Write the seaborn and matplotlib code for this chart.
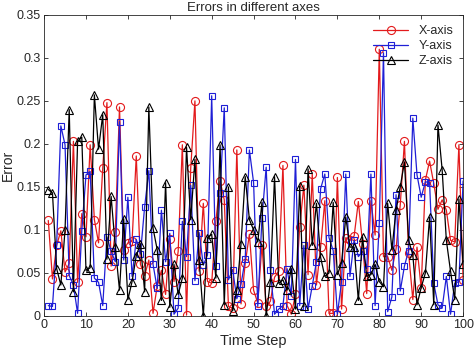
import numpy as np
import matplotlib
matplotlib.use("Agg")
import matplotlib.pyplot as plt
import seaborn as sns
import pandas as pd

# values (time steps 1..100)
steps = list(range(1, 101))

x_err = [0.111, 0.043, 0.082, 0.099, 0.051, 0.061, 0.203, 0.039, 0.119, 0.092,
         0.199, 0.112, 0.085, 0.172, 0.248, 0.058, 0.098, 0.243, 0.077, 0.085,
         0.087, 0.186, 0.060, 0.047, 0.065, 0.003, 0.035, 0.053, 0.025, 0.089,
         0.040, 0.075, 0.199, 0.001, 0.172, 0.250, 0.052, 0.131, 0.040, 0.038,
         0.110, 0.157, 0.135, 0.011, 0.009, 0.193, 0.014, 0.061, 0.095, 0.030,
         0.015, 0.083, 0.011, 0.017, 0.045, 0.052, 0.175, 0.012, 0.002, 0.025,
         0.103, 0.152, 0.048, 0.165, 0.036, 0.080, 0.134, 0.003, 0.003, 0.161,
         0.008, 0.091, 0.088, 0.093, 0.133, 0.084, 0.026, 0.134, 0.094, 0.310,
         0.069, 0.069, 0.053, 0.078, 0.129, 0.203, 0.073, 0.019, 0.080, 0.032,
         0.158, 0.180, 0.154, 0.124, 0.135, 0.123, 0.088, 0.086, 0.199, 0.042]

y_err = [0.012, 0.011, 0.083, 0.221, 0.199, 0.047, 0.036, 0.003, 0.099, 0.164,
         0.168, 0.044, 0.039, 0.012, 0.092, 0.075, 0.063, 0.226, 0.065, 0.138,
         0.046, 0.089, 0.072, 0.127, 0.169, 0.060, 0.032, 0.123, 0.063, 0.096,
         0.002, 0.009, 0.110, 0.069, 0.152, 0.041, 0.097, 0.059, 0.071, 0.256,
         0.058, 0.143, 0.242, 0.042, 0.054, 0.020, 0.037, 0.066, 0.193, 0.155,
         0.011, 0.114, 0.173, 0.053, 0.002, 0.008, 0.012, 0.055, 0.023, 0.182,
         0.012, 0.082, 0.008, 0.035, 0.063, 0.148, 0.165, 0.091, 0.076, 0.002,
         0.040, 0.165, 0.046, 0.088, 0.069, 0.075, 0.055, 0.165, 0.012, 0.108,
         0.306, 0.005, 0.022, 0.141, 0.029, 0.058, 0.076, 0.230, 0.164, 0.138,
         0.156, 0.155, 0.038, 0.013, 0.009, 0.046, 0.002, 0.038, 0.040, 0.157]

z_err = [0.147, 0.143, 0.055, 0.036, 0.100, 0.240, 0.028, 0.203, 0.208, 0.053,
         0.056, 0.257, 0.194, 0.234, 0.066, 0.139, 0.080, 0.030, 0.113, 0.019,
         0.040, 0.070, 0.084, 0.028, 0.243, 0.102, 0.077, 0.018, 0.155, 0.010,
         0.060, 0.025, 0.044, 0.196, 0.112, 0.182, 0.065, 0.000, 0.091, 0.095,
         0.044, 0.199, 0.013, 0.150, 0.006, 0.030, 0.084, 0.162, 0.112, 0.100,
         0.086, 0.132, 0.000, 0.040, 0.162, 0.038, 0.042, 0.030, 0.055, 0.008,
         0.151, 0.011, 0.171, 0.082, 0.131, 0.068, 0.046, 0.050, 0.132, 0.048,
         0.062, 0.115, 0.080, 0.080, 0.018, 0.092, 0.046, 0.048, 0.060, 0.040,
         0.034, 0.131, 0.077, 0.123, 0.150, 0.179, 0.088, 0.071, 0.013, 0.033,
         0.050, 0.115, 0.013, 0.222, 0.170, 0.088, 0.052, 0.019, 0.136, 0.060]

sns.set_theme(style="white")
plt.rcParams['font.family'] = ['Liberation Sans', 'DejaVu Sans']

fig = plt.figure(figsize=(4.74, 3.55), dpi=100)
ax = fig.add_axes([0.093, 0.11, 0.884, 0.848])

series = [("X-axis", x_err, "#e31a1c", "o", 5.8),
          ("Y-axis", y_err, "#1f1fd6", "s", 4.2),
          ("Z-axis", z_err, "black", "^", 6.0)]
for name, vals, col, mk, ms in series:
    sns.lineplot(x=steps, y=vals, ax=ax, color=col, lw=0.9, marker=mk,
                 markersize=ms, markerfacecolor="none", markeredgecolor=col,
                 markeredgewidth=0.8, label=name)

ax.set_xlim(0, 100)
ax.set_ylim(0, 0.35)
ax.set_xticks(np.arange(0, 101, 10))
ax.set_yticks(np.arange(0, 0.351, 0.05))
ax.set_yticklabels(["0", "0.05", "0.1", "0.15", "0.2", "0.25", "0.3", "0.35"])
ax.tick_params(direction="in", length=3, width=0.6, labelsize=9, colors="#262626",
               top=True, right=True, bottom=True, left=True, pad=2.5)
for s in ax.spines.values():
    s.set_color("#262626")
    s.set_linewidth(0.6)

ax.set_xlabel("Time Step", fontsize=10.5, labelpad=2)
ax.set_ylabel("Error", fontsize=10, labelpad=1)
ax.set_title("Errors in different axes", fontsize=9.5, pad=3)

leg = ax.legend(loc="upper right", fontsize=9, frameon=False, handlelength=2.8,
                borderaxespad=0.4, labelspacing=0.25)

fig.savefig("out.png", dpi=100)
